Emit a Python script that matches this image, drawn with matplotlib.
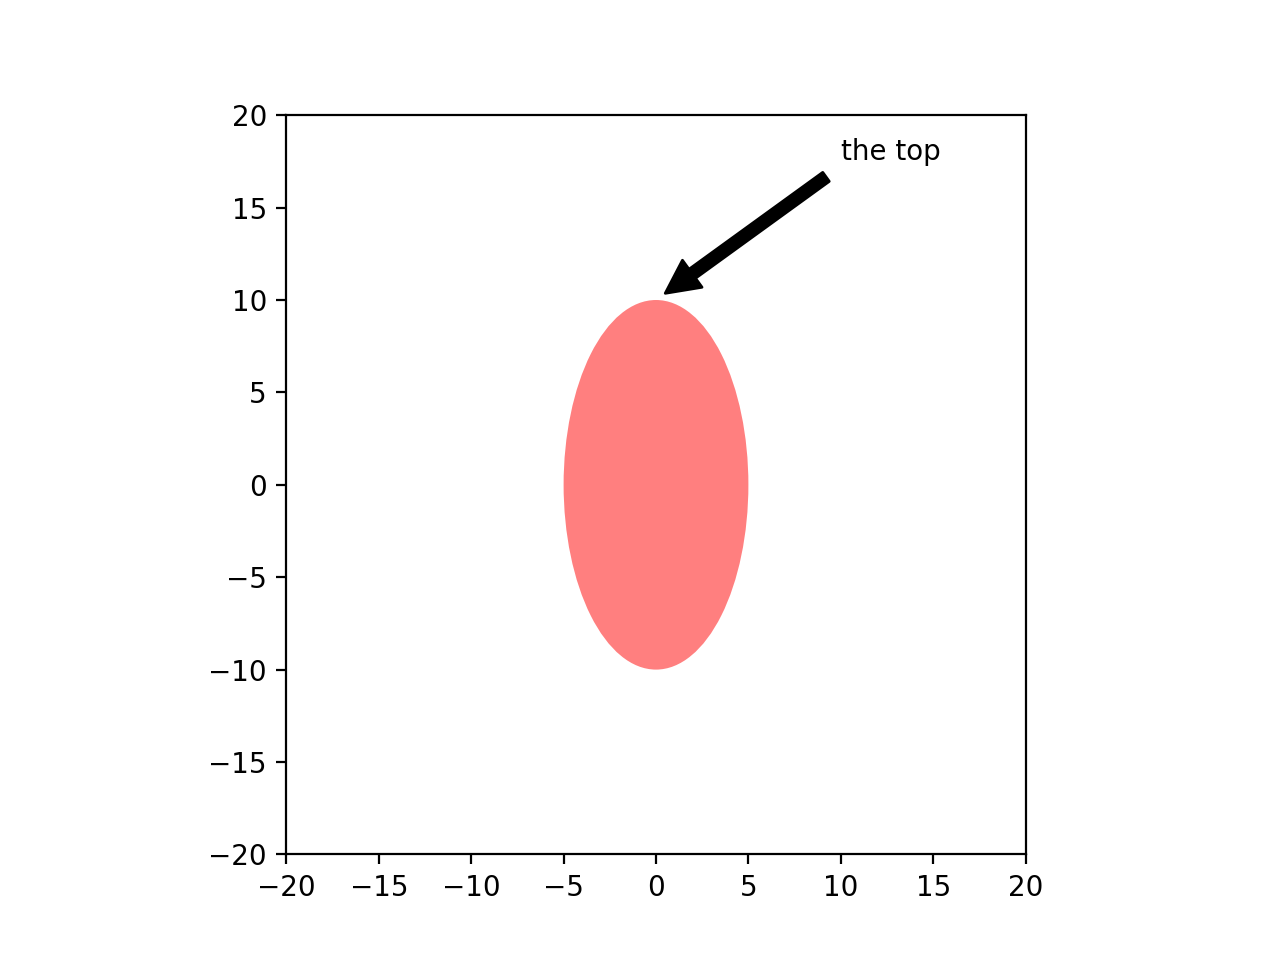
import matplotlib
matplotlib.use("Agg")
import matplotlib.pyplot as plt
from matplotlib.patches import Ellipse

center = (0, 0)
width = 10
height = 20
label = "the top"
label_xy = (10, 18)
xlim = (-20, 20)
ylim = (-20, 20)

fig, ax = plt.subplots(figsize=(6.4, 4.8), dpi=200)
el = Ellipse(center, width, height, facecolor='r', alpha=0.5)
ax.add_artist(el)
el.set_clip_box(ax.bbox)
ax.annotate(label, xy=(center[0], center[1] + height / 2), xycoords='data',
            xytext=label_xy, textcoords='data',
            arrowprops=dict(facecolor='black', shrink=0.05),
            horizontalalignment='left', verticalalignment='center', clip_on=True)
ax.set_xlim(*xlim)
ax.set_ylim(*ylim)
ax.set_aspect('equal')
fig.savefig("out.png")
